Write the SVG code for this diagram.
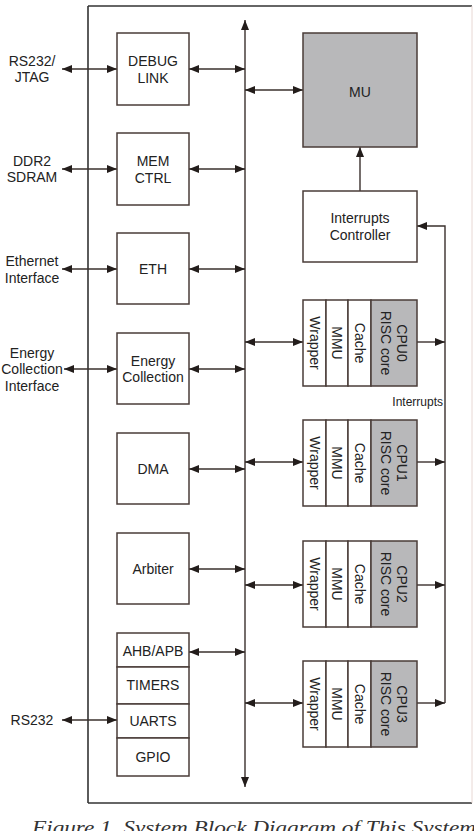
<svg xmlns="http://www.w3.org/2000/svg" width="474" height="831" viewBox="0 0 474 831">
<style>
.blk{fill:#fff;stroke:#4a3c38;stroke-width:1.5}
.gray{fill:#b8b8ba;stroke:#4a3c38;stroke-width:1.5}
.ln{fill:none;stroke:#3a302d;stroke-width:1.4}
.t{font-family:"Liberation Sans",Arial,sans-serif;font-size:14px;fill:#222;text-anchor:middle}
.cap{font-family:"Liberation Serif","Times New Roman",serif;font-style:italic;font-size:18px;fill:#333}
</style>
<defs>
<marker id="ah" viewBox="0 0 10 8" refX="10" refY="4" markerWidth="10" markerHeight="8" markerUnits="userSpaceOnUse" orient="auto-start-reverse">
<path d="M0,0 L10,4 L0,8 Z" fill="#231d1b"/>
</marker>
</defs>
<rect width="474" height="831" fill="#fff"/>
<g id="frame">
<line x1="88" y1="6" x2="472" y2="6" stroke="#333" stroke-width="1.6"/>
<line x1="88" y1="6" x2="88" y2="803" stroke="#333" stroke-width="1.6"/>
<line x1="88" y1="803" x2="472" y2="803" stroke="#333" stroke-width="1.6"/>
<line x1="472" y1="6" x2="472" y2="803" stroke="#e8d8d4" stroke-width="1"/>
</g>
<g id="connectors">
<line class="ln" x1="245" y1="787" x2="245" y2="20" marker-start="url(#ah)" marker-end="url(#ah)"/>
<line class="ln" x1="62" y1="69" x2="117" y2="69" marker-start="url(#ah)" marker-end="url(#ah)"/>
<line class="ln" x1="62" y1="169" x2="117" y2="169" marker-start="url(#ah)" marker-end="url(#ah)"/>
<line class="ln" x1="62" y1="269" x2="117" y2="269" marker-start="url(#ah)" marker-end="url(#ah)"/>
<line class="ln" x1="64" y1="369" x2="117" y2="369" marker-start="url(#ah)" marker-end="url(#ah)"/>
<line class="ln" x1="62" y1="720" x2="117" y2="720" marker-start="url(#ah)" marker-end="url(#ah)"/>
<line class="ln" x1="189" y1="69" x2="245" y2="69" marker-start="url(#ah)" marker-end="url(#ah)"/>
<line class="ln" x1="189" y1="169" x2="245" y2="169" marker-start="url(#ah)" marker-end="url(#ah)"/>
<line class="ln" x1="189" y1="269" x2="245" y2="269" marker-start="url(#ah)" marker-end="url(#ah)"/>
<line class="ln" x1="189" y1="369" x2="245" y2="369" marker-start="url(#ah)" marker-end="url(#ah)"/>
<line class="ln" x1="189" y1="469" x2="245" y2="469" marker-start="url(#ah)" marker-end="url(#ah)"/>
<line class="ln" x1="189" y1="569" x2="245" y2="569" marker-start="url(#ah)" marker-end="url(#ah)"/>
<line class="ln" x1="189" y1="652" x2="245" y2="652" marker-start="url(#ah)" marker-end="url(#ah)"/>
<line class="ln" x1="245" y1="90" x2="303" y2="90" marker-start="url(#ah)" marker-end="url(#ah)"/>
<line class="ln" x1="245" y1="342" x2="303" y2="342" marker-start="url(#ah)" marker-end="url(#ah)"/>
<line class="ln" x1="245" y1="462" x2="303" y2="462" marker-start="url(#ah)" marker-end="url(#ah)"/>
<line class="ln" x1="245" y1="585" x2="303" y2="585" marker-start="url(#ah)" marker-end="url(#ah)"/>
<line class="ln" x1="245" y1="703" x2="303" y2="703" marker-start="url(#ah)" marker-end="url(#ah)"/>
<line class="ln" x1="360" y1="191" x2="360" y2="147" marker-end="url(#ah)"/>
<polyline class="ln" points="445,703 445,226 417,226" marker-end="url(#ah)"/>
<line class="ln" x1="417" y1="342" x2="445" y2="342" marker-end="url(#ah)"/>
<line class="ln" x1="417" y1="462" x2="445" y2="462" marker-end="url(#ah)"/>
<line class="ln" x1="417" y1="585" x2="445" y2="585" marker-end="url(#ah)"/>
<line class="ln" x1="417" y1="703" x2="445" y2="703" marker-end="url(#ah)"/>
</g>
<g id="ext-labels">
<text class="t" x="32" y="66">RS232/</text>
<text class="t" x="32" y="82">JTAG</text>
<text class="t" x="32" y="166">DDR2</text>
<text class="t" x="32" y="182">SDRAM</text>
<text class="t" x="32" y="266">Ethernet</text>
<text class="t" x="32" y="283">Interface</text>
<text class="t" x="32" y="358">Energy</text>
<text class="t" x="32" y="374">Collection</text>
<text class="t" x="32" y="391">Interface</text>
<text class="t" x="32" y="725">RS232</text>
<text class="t" x="443" y="406" style="text-anchor:end;font-size:12px">Interrupts</text>
</g>
<g id="debug"><rect class="blk" x="117" y="33" width="72" height="72"/><text class="t" x="153" y="66">DEBUG</text><text class="t" x="153" y="83">LINK</text></g>
<g id="mem"><rect class="blk" x="117" y="133" width="72" height="72"/><text class="t" x="153" y="166">MEM</text><text class="t" x="153" y="183">CTRL</text></g>
<g id="eth"><rect class="blk" x="117" y="233" width="72" height="71"/><text class="t" x="153" y="274">ETH</text></g>
<g id="energy"><rect class="blk" x="117" y="333" width="72" height="71"/><text class="t" x="153" y="366">Energy</text><text class="t" x="153" y="382">Collection</text></g>
<g id="dma"><rect class="blk" x="117" y="433" width="72" height="71"/><text class="t" x="153" y="474">DMA</text></g>
<g id="arbiter"><rect class="blk" x="117" y="533" width="72" height="71"/><text class="t" x="153" y="574">Arbiter</text></g>
<g id="periph">
<rect class="blk" x="117" y="633" width="72" height="34"/><text class="t" x="153" y="656">AHB/APB</text>
<rect class="blk" x="117" y="667" width="72" height="37"/><text class="t" x="153" y="690">TIMERS</text>
<rect class="blk" x="117" y="704" width="72" height="34"/><text class="t" x="153" y="726">UARTS</text>
<rect class="blk" x="117" y="738" width="72" height="38"/><text class="t" x="153" y="762">GPIO</text>
</g>
<g id="mu"><rect class="gray" x="303" y="33" width="114" height="114"/><text class="t" x="360" y="97">MU</text></g>
<g id="ic"><rect class="blk" x="303" y="191" width="114" height="71"/><text class="t" x="360" y="223">Interrupts</text><text class="t" x="360" y="240">Controller</text></g>
<g id="cpu0" transform="translate(0,300)">
<rect class="blk" x="303" y="0" width="23" height="86"/><rect class="blk" x="326" y="0" width="22" height="86"/><rect class="blk" x="348" y="0" width="23" height="86"/><rect class="gray" x="371" y="0" width="46" height="86"/>
<text class="t" transform="translate(309.5,43) rotate(90)">Wrapper</text>
<text class="t" transform="translate(332,43) rotate(90)">MMU</text>
<text class="t" transform="translate(354.5,43) rotate(90)">Cache</text>
<text class="t" transform="translate(397,43) rotate(90)">CPU0</text>
<text class="t" transform="translate(381,43) rotate(90)">RISC core</text>
</g>
<g id="cpu1" transform="translate(0,420)">
<rect class="blk" x="303" y="0" width="23" height="86"/><rect class="blk" x="326" y="0" width="22" height="86"/><rect class="blk" x="348" y="0" width="23" height="86"/><rect class="gray" x="371" y="0" width="46" height="86"/>
<text class="t" transform="translate(309.5,43) rotate(90)">Wrapper</text>
<text class="t" transform="translate(332,43) rotate(90)">MMU</text>
<text class="t" transform="translate(354.5,43) rotate(90)">Cache</text>
<text class="t" transform="translate(397,43) rotate(90)">CPU1</text>
<text class="t" transform="translate(381,43) rotate(90)">RISC core</text>
</g>
<g id="cpu2" transform="translate(0,541)">
<rect class="blk" x="303" y="0" width="23" height="86"/><rect class="blk" x="326" y="0" width="22" height="86"/><rect class="blk" x="348" y="0" width="23" height="86"/><rect class="gray" x="371" y="0" width="46" height="86"/>
<text class="t" transform="translate(309.5,43) rotate(90)">Wrapper</text>
<text class="t" transform="translate(332,43) rotate(90)">MMU</text>
<text class="t" transform="translate(354.5,43) rotate(90)">Cache</text>
<text class="t" transform="translate(397,43) rotate(90)">CPU2</text>
<text class="t" transform="translate(381,43) rotate(90)">RISC core</text>
</g>
<g id="cpu3" transform="translate(0,661)">
<rect class="blk" x="303" y="0" width="23" height="86"/><rect class="blk" x="326" y="0" width="22" height="86"/><rect class="blk" x="348" y="0" width="23" height="86"/><rect class="gray" x="371" y="0" width="46" height="86"/>
<text class="t" transform="translate(309.5,43) rotate(90)">Wrapper</text>
<text class="t" transform="translate(332,43) rotate(90)">MMU</text>
<text class="t" transform="translate(354.5,43) rotate(90)">Cache</text>
<text class="t" transform="translate(397,43) rotate(90)">CPU3</text>
<text class="t" transform="translate(381,43) rotate(90)">RISC core</text>
</g>
<text class="cap" x="32" y="834" textLength="444" lengthAdjust="spacingAndGlyphs">Figure 1. System Block Diagram of This System</text>
</svg>
